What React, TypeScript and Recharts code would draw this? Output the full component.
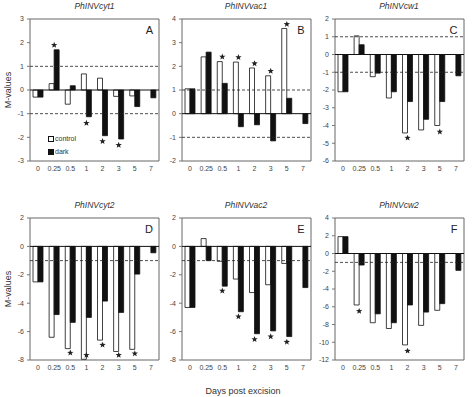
import React from "react";
import { ComposedChart, Bar, XAxis, YAxis, ReferenceLine, ReferenceArea, Scatter } from "recharts";

const days = ["0", "0.25", "0.5", "1", "2", "3", "5", "7"];

// A: PhINVcyt1
const cyt1Control = [-0.3, 0.27, -0.6, 0.68, 0.5, -0.27, -0.25, null];
const cyt1Dark = [-0.3, 1.7, 0.18, -1.13, -1.93, -2.07, -0.7, -0.33];
const cyt1Stars = [null, 1.9, null, -1.4, -2.17, -2.33, null, null];

// B: PhINVvac1
const vac1Control = [1.05, 2.4, 2.2, 2.18, 1.93, 1.6, 3.6, null];
const vac1Dark = [1.05, 2.6, 1.28, -0.55, -0.47, -1.15, 0.65, -0.42];
const vac1Stars = [null, null, 2.4, 2.38, 2.12, 1.8, 3.78, null];

// C: PhINVcw1
const cw1Control = [-2.1, 1.05, -1.25, -2.45, -4.42, -4.25, -4.0, null];
const cw1Dark = [-2.1, 0.55, -1.05, -2.1, -2.65, -3.65, -2.65, -1.2];
const cw1Stars = [null, null, null, null, -4.7, null, -4.36, null];

// D: PhINVcyt2
const cyt2Control = [-2.5, -6.4, -7.2, -7.95, -6.6, -7.4, -7.25, null];
const cyt2Dark = [-2.5, -4.8, -5.35, -5.0, -3.85, -4.65, -1.95, -0.45];
const cyt2Stars = [null, null, -7.5, -7.65, -6.94, -7.65, -7.55, null];

// E: PhINVvac2
const vac2Control = [-4.3, 0.55, -1.05, -2.3, -3.25, -2.7, -1.2, null];
const vac2Dark = [-4.3, -1.0, -2.8, -4.6, -6.15, -5.95, -6.35, -2.9];
const vac2Stars = [null, null, -3.13, -4.94, -6.54, -6.35, -6.73, null];

// F: PhINVcw2
const cw2Control = [1.9, -5.8, -7.8, -8.45, -10.3, -8.1, -6.4, null];
const cw2Dark = [1.9, -1.3, -6.8, -7.8, -5.8, -6.6, -5.65, -1.9];
const cw2Stars = [null, -6.5, null, null, -10.98, null, null, null];

const FONT = "'Liberation Sans', Arial, Helvetica, sans-serif";
const BOX_W = 129;
const BOX_H = 142;

const StarShape = (props: any) => {
  const { cx, cy, payload } = props;
  if (payload == null || payload.star == null || cx == null || cy == null || isNaN(cy)) return <g />;
  const pts: string[] = [];
  for (let k = 0; k < 10; k++) {
    const r = k % 2 === 0 ? 3.3 : 1.4;
    const a = -Math.PI / 2 + (k * Math.PI) / 5;
    pts.push(`${cx + r * Math.cos(a)},${cy + r * Math.sin(a)}`);
  }
  return <polygon points={pts.join(" ")} fill="#222" />;
};

function Panel(props: {
  title: string;
  letter: string;
  control: (number | null)[];
  dark: (number | null)[];
  stars: (number | null)[];
  domain: [number, number];
  ticks: number[];
  dashed: number[];
  left: number;
  top: number;
}) {
  const { title, letter, control, dark, stars, domain, ticks, dashed, left, top } = props;
  const data = days.map((d, i) => ({ day: d, control: control[i], dark: dark[i], star: stars[i] }));
  const W = 30 + BOX_W + 10;
  const H = 16 + BOX_H + 17;
  return (
    <>
      <div
        style={{
          position: "absolute",
          left,
          top: top - 18,
          width: BOX_W,
          textAlign: "center",
          fontSize: 8.5,
          lineHeight: "10px",
          fontStyle: "italic",
          color: "#333",
        }}
      >
        {title}
      </div>
      <div style={{ position: "absolute", left: left - 30, top: top - 16, width: W, height: H }}>
        <ComposedChart width={W} height={H} data={data} margin={{ top: 16, right: 10, bottom: 0, left: 0 }} barGap={0}>
          <XAxis
            dataKey="day"
            axisLine={false}
            tickLine={false}
            tickSize={3}
            tickMargin={2}
            interval={0}
            height={17}
            tick={{ fontSize: 7, fill: "#444" }}
          />
          <YAxis
            type="number"
            domain={domain}
            ticks={ticks}
            interval={0}
            width={30}
            axisLine={false}
            tickLine={{ stroke: "#777" }}
            tickSize={3}
            tickMargin={3}
            tick={{ fontSize: 7, fill: "#444" }}
          />
          <ReferenceArea y1={domain[0]} y2={domain[1]} fill="none" stroke="#666" strokeWidth={1} />
          {dashed.map((v) => (
            <ReferenceLine key={v} y={v} stroke="#222" strokeDasharray="3 2" strokeWidth={0.8} />
          ))}
          <Bar dataKey="control" fill="#fff" stroke="#111" strokeWidth={0.8} barSize={5} isAnimationActive={false} />
          <Bar dataKey="dark" fill="#111" stroke="#111" strokeWidth={0.8} barSize={5} isAnimationActive={false} />
          <ReferenceLine y={0} stroke="#111" strokeWidth={1} />
          <Scatter dataKey="star" shape={StarShape} isAnimationActive={false} />
        </ComposedChart>
      </div>
      <div
        style={{
          position: "absolute",
          left: left + BOX_W - 40,
          width: 34,
          top: top + 6,
          textAlign: "right",
          fontSize: 11,
          lineHeight: "11px",
          color: "#222",
        }}
      >
        {letter}
      </div>
    </>
  );
}

function VLabel({ x, y, text }: { x: number; y: number; text: string }) {
  return (
    <div
      style={{
        position: "absolute",
        left: x - 40,
        top: y - 6,
        width: 80,
        height: 12,
        lineHeight: "12px",
        textAlign: "center",
        fontSize: 9,
        color: "#333",
        transform: "rotate(-90deg)",
      }}
    >
      {text}
    </div>
  );
}

export default function App() {
  const cols = [30, 181.5, 334.5];
  const rows = [19, 218];
  return (
    <div
      style={{
        position: "absolute",
        left: 0,
        top: 0,
        width: 474,
        height: 397,
        background: "#fff",
        fontFamily: FONT,
        overflow: "hidden",
      }}
    >
      <Panel title="PhINVcyt1" letter="A" control={cyt1Control} dark={cyt1Dark} stars={cyt1Stars}
        domain={[-3, 3]} ticks={[-3, -2, -1, 0, 1, 2, 3]} dashed={[1, -1]} left={cols[0]} top={rows[0]} />
      <Panel title="PhINVvac1" letter="B" control={vac1Control} dark={vac1Dark} stars={vac1Stars}
        domain={[-2, 4]} ticks={[-2, -1, 0, 1, 2, 3, 4]} dashed={[1, -1]} left={cols[1]} top={rows[0]} />
      <Panel title="PhINVcw1" letter="C" control={cw1Control} dark={cw1Dark} stars={cw1Stars}
        domain={[-6, 2]} ticks={[-6, -5, -4, -3, -2, -1, 0, 1, 2]} dashed={[1, -1]} left={cols[2]} top={rows[0]} />
      <Panel title="PhINVcyt2" letter="D" control={cyt2Control} dark={cyt2Dark} stars={cyt2Stars}
        domain={[-8, 2]} ticks={[-8, -6, -4, -2, 0, 2]} dashed={[-1]} left={cols[0]} top={rows[1]} />
      <Panel title="PhINVvac2" letter="E" control={vac2Control} dark={vac2Dark} stars={vac2Stars}
        domain={[-8, 2]} ticks={[-8, -6, -4, -2, 0, 2]} dashed={[-1]} left={cols[1]} top={rows[1]} />
      <Panel title="PhINVcw2" letter="F" control={cw2Control} dark={cw2Dark} stars={cw2Stars}
        domain={[-12, 4]} ticks={[-12, -10, -8, -6, -4, -2, 0, 2, 4]} dashed={[-1]} left={cols[2]} top={rows[1]} />

      <div style={{ position: "absolute", left: 48, top: 132, fontSize: 7, lineHeight: "13px", color: "#333" }}>
        <div style={{ display: "flex", alignItems: "center" }}>
          <span style={{ display: "inline-block", width: 4, height: 4, border: "1px solid #111", background: "#fff", marginRight: 1 }} />
          control
        </div>
        <div style={{ display: "flex", alignItems: "center" }}>
          <span style={{ display: "inline-block", width: 6, height: 6, background: "#111", marginRight: 1 }} />
          dark
        </div>
      </div>

      <VLabel x={8} y={90} text="M-values" />
      <VLabel x={8} y={289} text="M-values" />
      <div style={{ position: "absolute", left: 163, width: 160, top: 385, textAlign: "center", fontSize: 9, lineHeight: "12px", color: "#333" }}>
        Days post excision
      </div>
    </div>
  );
}
